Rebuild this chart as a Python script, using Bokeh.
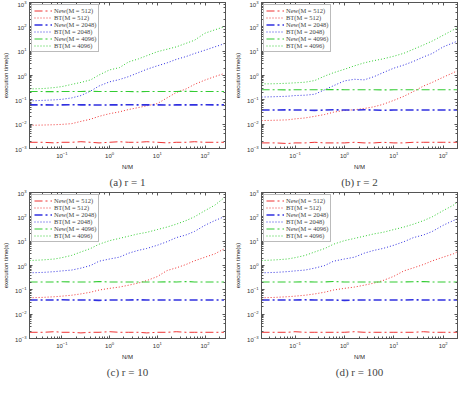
from bokeh.plotting import figure
from bokeh.layouts import column, row
from bokeh.models import Range1d, Legend, LegendItem, LogAxis
from bokeh.embed import file_html
from bokeh.resources import INLINE

# N/M values (shared x grid)
nm = [0.021, 0.04, 0.07, 0.1, 0.16, 0.25, 0.4, 0.6, 1.0, 1.6, 2.5, 4, 6, 10, 16, 25, 40, 60, 100, 160, 250]

series_labels = ["New(M = 512)", "BT(M = 512)", "New(M = 2048)", "BT(M = 2048)", "New(M = 4096)", "BT(M = 4096)"]
captions = ["(a) r = 1", "(b) r = 2", "(c) r = 10", "(d) r = 100"]

# (a) r = 1
new512_a = [0.0018, 0.0018, 0.0017, 0.0018, 0.0018, 0.0019, 0.0018, 0.0017, 0.0018, 0.0019, 0.0018, 0.0018, 0.0019, 0.0018, 0.0017, 0.0018, 0.0018, 0.0019, 0.0018, 0.0018, 0.0018]
bt512_a = [0.009, 0.0092, 0.0095, 0.0098, 0.0105, 0.013, 0.016, 0.021, 0.027, 0.032, 0.04, 0.048, 0.057, 0.07, 0.12, 0.2, 0.28, 0.43, 0.65, 0.9, 1.2]
new2048_a = [0.062, 0.062, 0.061, 0.062, 0.063, 0.062, 0.062, 0.061, 0.062, 0.062, 0.063, 0.062, 0.062, 0.062, 0.061, 0.062, 0.062, 0.062, 0.063, 0.062, 0.062]
bt2048_a = [0.09, 0.095, 0.1, 0.105, 0.12, 0.15, 0.23, 0.37, 0.55, 0.68, 0.9, 1.3, 1.8, 2.5, 3.3, 4.6, 6.0, 8.0, 11, 15, 20]
new4096_a = [0.22, 0.22, 0.215, 0.22, 0.22, 0.22, 0.225, 0.22, 0.22, 0.22, 0.22, 0.215, 0.22, 0.22, 0.22, 0.22, 0.225, 0.22, 0.22, 0.22, 0.22]
bt4096_a = [0.28, 0.29, 0.32, 0.35, 0.43, 0.52, 0.66, 1.05, 1.7, 2.1, 3.6, 4.8, 6.5, 9.5, 12, 15, 21, 28, 55, 75, 100]

# (b) r = 2
new512_b = [0.0017, 0.0017, 0.0016, 0.0017, 0.0017, 0.0018, 0.0017, 0.0017, 0.0017, 0.0018, 0.0017, 0.0017, 0.0018, 0.0017, 0.0017, 0.0018, 0.0018, 0.0018, 0.0018, 0.0018, 0.0018]
bt512_b = [0.014, 0.0145, 0.015, 0.0165, 0.018, 0.021, 0.025, 0.031, 0.037, 0.039, 0.044, 0.052, 0.065, 0.095, 0.14, 0.22, 0.37, 0.52, 0.85, 1.3, 2.0]
new2048_b = [0.038, 0.038, 0.039, 0.038, 0.038, 0.037, 0.038, 0.039, 0.038, 0.038, 0.039, 0.038, 0.037, 0.038, 0.038, 0.038, 0.038, 0.038, 0.038, 0.038, 0.038]
bt2048_b = [0.13, 0.135, 0.14, 0.15, 0.155, 0.17, 0.26, 0.38, 0.6, 0.7, 0.66, 0.9, 1.3, 2.0, 2.7, 3.8, 5.8, 8.0, 15, 22, 32]
new4096_b = [0.26, 0.26, 0.255, 0.26, 0.26, 0.26, 0.26, 0.265, 0.26, 0.26, 0.26, 0.26, 0.255, 0.26, 0.26, 0.26, 0.26, 0.26, 0.26, 0.26, 0.26]
bt4096_b = [0.45, 0.46, 0.48, 0.5, 0.53, 0.62, 0.95, 1.3, 1.8, 2.5, 3.3, 4.1, 4.8, 6.2, 8.2, 12, 18, 26, 45, 75, 120]

# (c) r = 10
new512_c = [0.0018, 0.0018, 0.0019, 0.0018, 0.0018, 0.0017, 0.0018, 0.0018, 0.0019, 0.0018, 0.0018, 0.0018, 0.0017, 0.0018, 0.0018, 0.0019, 0.0018, 0.0018, 0.0018, 0.0018, 0.0018]
bt512_c = [0.047, 0.049, 0.052, 0.055, 0.06, 0.068, 0.08, 0.098, 0.115, 0.13, 0.155, 0.19, 0.24, 0.35, 0.62, 0.8, 1.1, 1.55, 2.2, 3.0, 4.8]
new2048_c = [0.038, 0.038, 0.038, 0.039, 0.038, 0.038, 0.038, 0.037, 0.038, 0.038, 0.038, 0.039, 0.038, 0.038, 0.038, 0.038, 0.038, 0.038, 0.038, 0.038, 0.038]
bt2048_c = [0.5, 0.52, 0.56, 0.6, 0.65, 0.78, 1.0, 1.5, 1.85, 2.2, 3.2, 4.2, 5.0, 6.8, 9.5, 14, 18, 25, 45, 70, 100]
new4096_c = [0.21, 0.21, 0.21, 0.215, 0.21, 0.21, 0.21, 0.22, 0.21, 0.21, 0.21, 0.21, 0.21, 0.21, 0.215, 0.21, 0.22, 0.21, 0.21, 0.21, 0.21]
bt4096_c = [1.6, 1.7, 1.85, 2.1, 2.6, 3.6, 5.0, 7.5, 10.5, 13, 16, 20, 23, 30, 38, 50, 70, 100, 180, 300, 600]

# (d) r = 100
new512_d = [0.0018, 0.0018, 0.0018, 0.0019, 0.0018, 0.0018, 0.0018, 0.0018, 0.0018, 0.0019, 0.0018, 0.0018, 0.0018, 0.0018, 0.0018, 0.0018, 0.0019, 0.0018, 0.0018, 0.0018, 0.0018]
bt512_d = [0.047, 0.049, 0.052, 0.055, 0.06, 0.068, 0.08, 0.098, 0.115, 0.13, 0.155, 0.19, 0.24, 0.36, 0.6, 0.8, 1.1, 1.55, 2.2, 3.0, 4.8]
new2048_d = [0.038, 0.038, 0.038, 0.038, 0.039, 0.038, 0.038, 0.038, 0.037, 0.038, 0.038, 0.038, 0.038, 0.038, 0.038, 0.039, 0.038, 0.038, 0.038, 0.038, 0.038]
bt2048_d = [0.5, 0.52, 0.56, 0.6, 0.65, 0.78, 1.0, 1.5, 1.85, 2.2, 3.2, 4.2, 5.0, 6.8, 9.5, 14, 18, 25, 45, 70, 100]
new4096_d = [0.21, 0.21, 0.21, 0.21, 0.215, 0.21, 0.21, 0.22, 0.21, 0.21, 0.21, 0.21, 0.21, 0.21, 0.21, 0.215, 0.22, 0.21, 0.21, 0.21, 0.21]
bt4096_d = [1.6, 1.7, 1.85, 2.1, 2.6, 3.6, 5.0, 7.5, 10.5, 13, 16, 20, 23, 30, 38, 50, 70, 100, 180, 300, 600]

RED, BLUE, GREEN = "#ee3333", "#3030e0", "#33cc33"
styles = [
    dict(line_color=RED, line_dash="8 3 2 3", line_width=1.0),
    dict(line_color=RED, line_dash="1 2", line_width=1.0),
    dict(line_color=BLUE, line_dash="8 3 2 3", line_width=1.6),
    dict(line_color=BLUE, line_dash="1 2", line_width=1.0),
    dict(line_color=GREEN, line_dash="8 3 2 3", line_width=1.2),
    dict(line_color=GREEN, line_dash="1 2", line_width=1.0),
]

SANS = "Liberation Sans"
SERIF = "Liberation Serif"
FRAME = "#555555"


def style_axis(ax, labels=True):
    ax.major_tick_in = 3
    ax.major_tick_out = 0
    ax.minor_tick_in = 2
    ax.minor_tick_out = 0
    ax.axis_line_color = FRAME
    ax.major_tick_line_color = FRAME
    ax.minor_tick_line_color = FRAME
    if labels:
        ax.major_label_text_font = SANS
        ax.major_label_text_font_size = "6px"
        ax.major_label_text_color = "#333333"
        ax.major_label_standoff = 3
        ax.axis_label_text_font = SANS
        ax.axis_label_text_font_size = "6px"
        ax.axis_label_text_font_style = "normal"
        ax.axis_label_text_color = "#222222"
        ax.axis_label_standoff = 3
    else:
        ax.major_label_text_font_size = "2px"
        ax.major_label_text_alpha = 0.0
        ax.major_label_standoff = 0


def panel(caption, data, x_end, width, height, bl, br, bt, bb):
    p = figure(width=width, height=height, x_axis_type="log", y_axis_type="log",
               x_range=Range1d(0.0209, x_end), y_range=Range1d(0.001, 1000),
               output_backend="svg", toolbar_location=None,
               title=caption, title_location="below",
               min_border_left=bl, min_border_right=br, min_border_top=bt, min_border_bottom=bb)
    p.title.align = "center"
    p.title.text_font = SERIF
    p.title.text_font_size = "11px"
    p.title.text_font_style = "normal"
    p.title.standoff = 3
    p.grid.visible = False
    p.outline_line_color = FRAME
    p.outline_line_width = 0.8
    xa = p.below[0]
    ya = p.left[0]
    style_axis(xa)
    style_axis(ya)
    xa.axis_label = "N/M"
    ya.axis_label = "execution time(s)"
    top_ax = LogAxis()
    right_ax = LogAxis()
    style_axis(top_ax, labels=False)
    style_axis(right_ax, labels=False)
    p.add_layout(top_ax, "above")
    p.add_layout(right_ax, "right")
    items = []
    for lab, ys, st in zip(series_labels, data, styles):
        r = p.line(nm, ys, **st)
        items.append(LegendItem(label=lab, renderers=[r]))
    leg = Legend(items=items, location="top_left",
                 label_text_font=SERIF, label_text_font_size="6.5px",
                 glyph_width=18, glyph_height=7, label_height=7, label_standoff=2,
                 spacing=0, padding=2, margin=2,
                 border_line_color="#777777", border_line_width=0.8,
                 background_fill_color="white", background_fill_alpha=1.0)
    p.add_layout(leg)
    return p


pa = panel(captions[0], [new512_a, bt512_a, new2048_a, bt2048_a, new4096_a, bt4096_a], 269, 229, 189, 14, 4, 2, 40)
pb = panel(captions[1], [new512_b, bt512_b, new2048_b, bt2048_b, new4096_b, bt4096_b], 195, 229, 189, 32, 1, 2, 40)
pc = panel(captions[2], [new512_c, bt512_c, new2048_c, bt2048_c, new4096_c, bt4096_c], 269, 229, 190, 14, 4, 3, 40)
pd = panel(captions[3], [new512_d, bt512_d, new2048_d, bt2048_d, new4096_d, bt4096_d], 195, 229, 190, 32, 1, 3, 40)

layout = column(row(pa, pb), row(pc, pd))
open("out.html", "w").write(file_html(layout, INLINE))
